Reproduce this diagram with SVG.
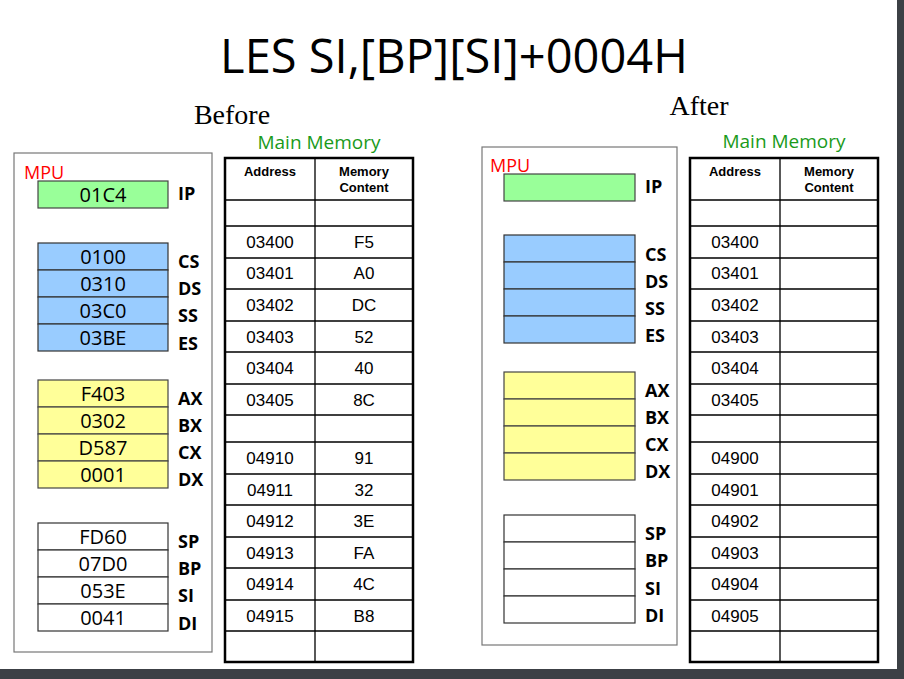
<svg xmlns="http://www.w3.org/2000/svg" width="904" height="679" viewBox="0 0 904 679">
<style>
.t{font-family:"Open Sans","Liberation Sans",sans-serif}
.rv{font-family:"Open Sans",sans-serif;font-size:20px;text-anchor:middle}
.rl{font-family:"Open Sans",sans-serif;font-size:18px;font-weight:bold}
.tv{font-family:"Liberation Sans",Arial,sans-serif;font-size:17px;text-anchor:middle}
.th{font-family:"Liberation Sans",Arial,sans-serif;font-size:13px;font-weight:bold;text-anchor:middle}
.mm{font-family:"Open Sans",sans-serif;font-size:19px;fill:#1a9a1a}
.mpu{font-family:"Open Sans",sans-serif;font-size:18px;fill:#f00}
.box{fill:#fff;stroke:#777;stroke-width:1.2}
.g{fill:#99ff99;stroke:#444;stroke-width:1.2}
.b{fill:#99ccff;stroke:#333;stroke-width:1.2}
.y{fill:#ffff99;stroke:#444;stroke-width:1.2}
.w{fill:#fff;stroke:#333;stroke-width:1.2}
.ln{stroke:#000;stroke-width:1.3}
.tb{fill:#fff;stroke:#000;stroke-width:2.5}
</style>
<rect width="904" height="679" fill="#fff"/>
<rect x="0" y="669" width="904" height="10" fill="#3c4045"/>
<rect x="897" y="0" width="7" height="679" fill="#3c4045"/>
<text x="454" y="73" class="t" font-size="47" text-anchor="middle">LES SI,[BP][SI]+0004H</text>
<text x="232" y="124" font-family="Liberation Serif,serif" font-size="28" text-anchor="middle">Before</text>
<text x="699" y="115" font-family="Liberation Serif,serif" font-size="28" text-anchor="middle">After</text>
<text x="319" y="149" class="mm" text-anchor="middle">Main Memory</text>
<text x="784" y="148" class="mm" text-anchor="middle">Main Memory</text>

<g id="mpu-before">
<rect x="14" y="153" width="198" height="499" class="box"/>
<text x="24" y="179" class="mpu">MPU</text>
<rect x="38" y="181" width="130" height="27" class="g"/><text x="103" y="202" class="rv">01C4</text><text x="178" y="200" class="rl">IP</text>
<rect x="38" y="243" width="130" height="27" class="b"/><text x="103" y="264" class="rv">0100</text><text x="178" y="268" class="rl">CS</text>
<rect x="38" y="270" width="130" height="27" class="b"/><text x="103" y="291" class="rv">0310</text><text x="178" y="295" class="rl">DS</text>
<rect x="38" y="297" width="130" height="27" class="b"/><text x="103" y="318" class="rv">03C0</text><text x="178" y="322" class="rl">SS</text>
<rect x="38" y="324" width="130" height="27" class="b"/><text x="103" y="345" class="rv">03BE</text><text x="178" y="350" class="rl">ES</text>
<rect x="38" y="380" width="130" height="27" class="y"/><text x="103" y="401" class="rv">F403</text><text x="178" y="405" class="rl">AX</text>
<rect x="38" y="407" width="130" height="27" class="y"/><text x="103" y="428" class="rv">0302</text><text x="178" y="432" class="rl">BX</text>
<rect x="38" y="434" width="130" height="27" class="y"/><text x="103" y="455" class="rv">D587</text><text x="178" y="459" class="rl">CX</text>
<rect x="38" y="461" width="130" height="27" class="y"/><text x="103" y="482" class="rv">0001</text><text x="178" y="486" class="rl">DX</text>
<rect x="38" y="523" width="130" height="27" class="w"/><text x="103" y="544" class="rv">FD60</text><text x="178" y="548" class="rl">SP</text>
<rect x="38" y="550" width="130" height="27" class="w"/><text x="103" y="571" class="rv">07D0</text><text x="178" y="575" class="rl">BP</text>
<rect x="38" y="577" width="130" height="27" class="w"/><text x="103" y="598" class="rv">053E</text><text x="178" y="602" class="rl">SI</text>
<rect x="38" y="604" width="130" height="27" class="w"/><text x="103" y="625" class="rv">0041</text><text x="178" y="630" class="rl">DI</text>
</g>

<g id="mem-before">
<rect x="225" y="158" width="188" height="504" class="tb"/>
<path class="ln" d="M315 158V662M225 200H413M225 226H413M225 258H413M225 289H413M225 321H413M225 352H413M225 384H413M225 415H413M225 442H413M225 474H413M225 505H413M225 537H413M225 568H413M225 600H413M225 631H413"/>
<text x="270" y="176" class="th">Address</text>
<text x="364" y="176" class="th">Memory</text><text x="364" y="192" class="th">Content</text>
<text x="270" y="248" class="tv">03400</text><text x="364" y="248" class="tv">F5</text>
<text x="270" y="279" class="tv">03401</text><text x="364" y="279" class="tv">A0</text>
<text x="270" y="311" class="tv">03402</text><text x="364" y="311" class="tv">DC</text>
<text x="270" y="343" class="tv">03403</text><text x="364" y="343" class="tv">52</text>
<text x="270" y="374" class="tv">03404</text><text x="364" y="374" class="tv">40</text>
<text x="270" y="406" class="tv">03405</text><text x="364" y="406" class="tv">8C</text>
<text x="270" y="464" class="tv">04910</text><text x="364" y="464" class="tv">91</text>
<text x="270" y="496" class="tv">04911</text><text x="364" y="496" class="tv">32</text>
<text x="270" y="527" class="tv">04912</text><text x="364" y="527" class="tv">3E</text>
<text x="270" y="559" class="tv">04913</text><text x="364" y="559" class="tv">FA</text>
<text x="270" y="590" class="tv">04914</text><text x="364" y="590" class="tv">4C</text>
<text x="270" y="622" class="tv">04915</text><text x="364" y="622" class="tv">B8</text>
</g>

<g id="mpu-after">
<rect x="482" y="147" width="195" height="498" class="box"/>
<text x="490" y="172" class="mpu">MPU</text>
<rect x="504" y="174" width="131" height="27" class="g"/><text x="645" y="193" class="rl">IP</text>
<rect x="504" y="235" width="131" height="27" class="b"/><text x="645" y="261" class="rl">CS</text>
<rect x="504" y="262" width="131" height="27" class="b"/><text x="645" y="288" class="rl">DS</text>
<rect x="504" y="289" width="131" height="27" class="b"/><text x="645" y="315" class="rl">SS</text>
<rect x="504" y="316" width="131" height="27" class="b"/><text x="645" y="342" class="rl">ES</text>
<rect x="504" y="372" width="131" height="27" class="y"/><text x="645" y="397" class="rl">AX</text>
<rect x="504" y="399" width="131" height="27" class="y"/><text x="645" y="424" class="rl">BX</text>
<rect x="504" y="426" width="131" height="27" class="y"/><text x="645" y="451" class="rl">CX</text>
<rect x="504" y="453" width="131" height="27" class="y"/><text x="645" y="478" class="rl">DX</text>
<rect x="504" y="515" width="131" height="27" class="w"/><text x="645" y="540" class="rl">SP</text>
<rect x="504" y="542" width="131" height="27" class="w"/><text x="645" y="567" class="rl">BP</text>
<rect x="504" y="569" width="131" height="27" class="w"/><text x="645" y="595" class="rl">SI</text>
<rect x="504" y="596" width="131" height="27" class="w"/><text x="645" y="622" class="rl">DI</text>
</g>

<g id="mem-after">
<rect x="690" y="158" width="188" height="504" class="tb"/>
<path class="ln" d="M780 158V662M690 200H878M690 226H878M690 258H878M690 289H878M690 321H878M690 352H878M690 384H878M690 415H878M690 442H878M690 474H878M690 505H878M690 537H878M690 568H878M690 600H878M690 631H878"/>
<text x="735" y="176" class="th">Address</text>
<text x="829" y="176" class="th">Memory</text><text x="829" y="192" class="th">Content</text>
<text x="735" y="248" class="tv">03400</text>
<text x="735" y="279" class="tv">03401</text>
<text x="735" y="311" class="tv">03402</text>
<text x="735" y="343" class="tv">03403</text>
<text x="735" y="374" class="tv">03404</text>
<text x="735" y="406" class="tv">03405</text>
<text x="735" y="464" class="tv">04900</text>
<text x="735" y="496" class="tv">04901</text>
<text x="735" y="527" class="tv">04902</text>
<text x="735" y="559" class="tv">04903</text>
<text x="735" y="590" class="tv">04904</text>
<text x="735" y="622" class="tv">04905</text>
</g>
<g id="connectors"/>
</svg>
